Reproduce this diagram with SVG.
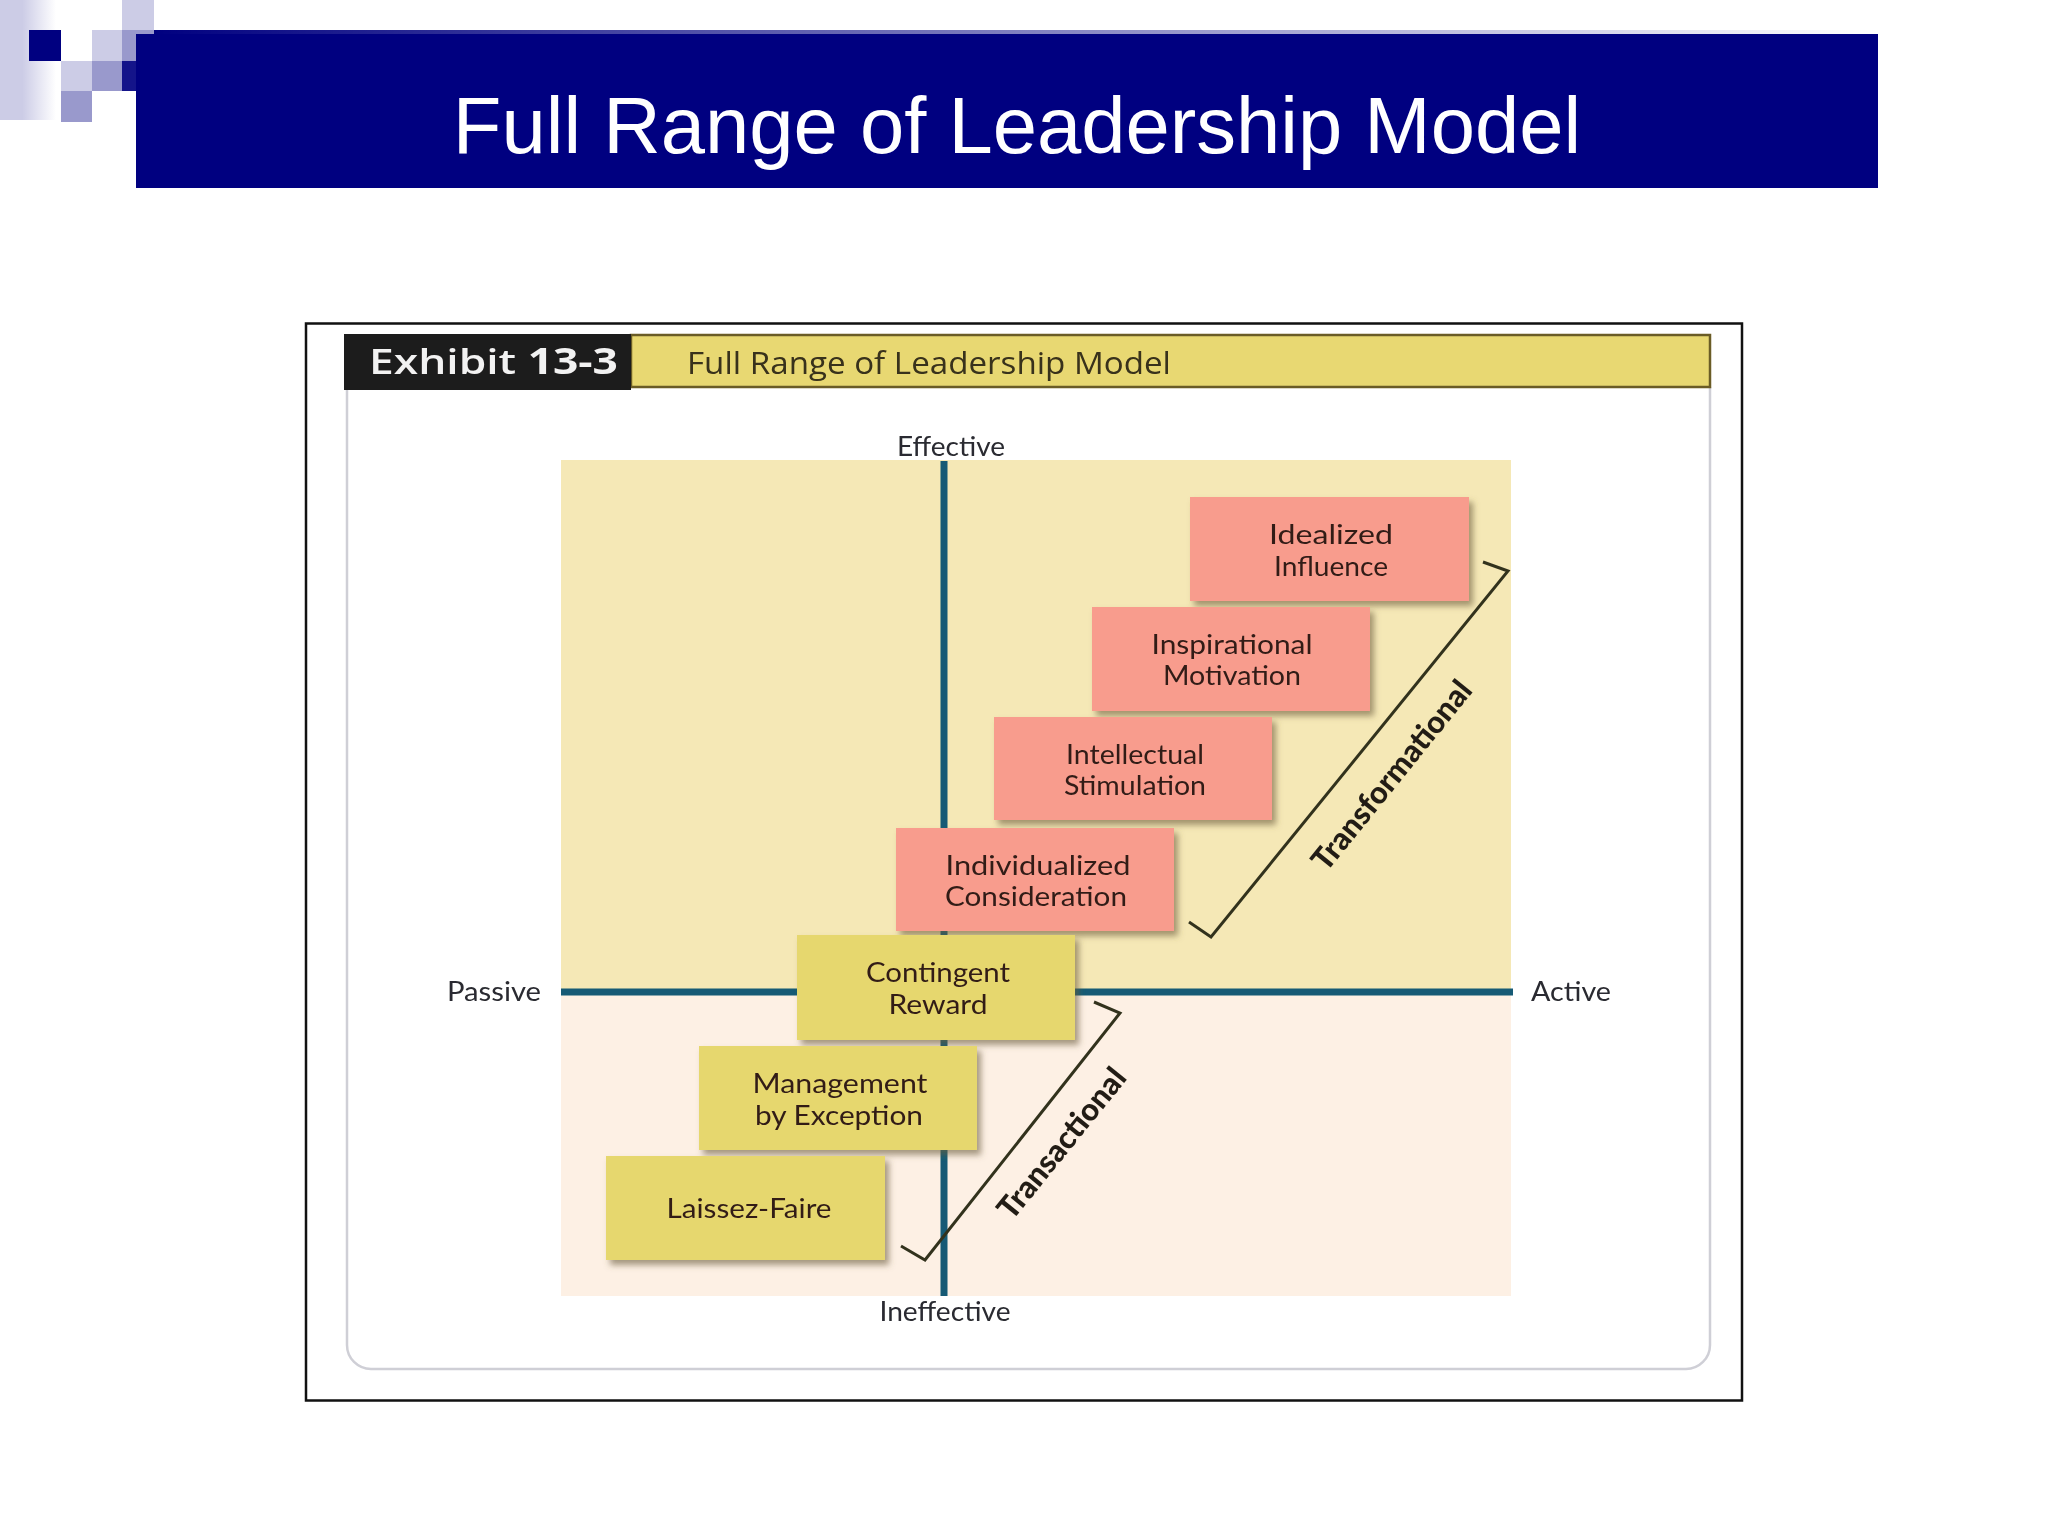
<svg xmlns="http://www.w3.org/2000/svg" width="2048" height="1536" viewBox="0 0 2048 1536">
<style>
.b{filter:url(#sh)}
.pink{fill:#f89c8d}
.yel{fill:#e6d76e}
text{font-family:"Lato","Liberation Sans",sans-serif}
.t{font-size:27px;fill:#301c18;text-anchor:middle}
.a{font-size:26px;fill:#2a2b30;text-anchor:middle}
.br{fill:none;stroke:#33331f;stroke-width:3}
.ax{stroke:#135a75;stroke-width:7;fill:none}
.rot{font-size:31px;font-weight:900;fill:#241f14;text-anchor:middle}
</style>
<defs>
<filter id="sh" x="-5%" y="-5%" width="115%" height="120%"><feDropShadow dx="4" dy="5" stdDeviation="3" flood-color="#6b5a3a" flood-opacity=".6"/></filter>
<filter id="soft"><feGaussianBlur stdDeviation=".7"/></filter>
<linearGradient id="fade"><stop offset="0" stop-color="#ccccE6"/><stop offset=".4" stop-color="#ccccE6"/><stop offset="1" stop-color="#fff"/></linearGradient>
<linearGradient id="top"><stop offset="0" stop-color="#000080"/><stop offset="1" stop-color="#000080" stop-opacity="0"/></linearGradient>
</defs>
<rect width="2048" height="1536" fill="#fff"/>
<g id="decor">
<rect x="0" y="0" width="56" height="120" fill="url(#fade)"/>
<rect x="29" y="30" width="32" height="31" fill="#000080"/>
<rect x="122" y="0" width="32" height="30" fill="#ccccE6"/>
<rect x="92" y="30" width="30" height="31" fill="#ccccE6"/>
<rect x="122" y="30" width="32" height="31" fill="#9999CC"/>
<rect x="61" y="61" width="31" height="30" fill="#ccccE6"/>
<rect x="92" y="61" width="30" height="30" fill="#9999CC"/>
<rect x="122" y="61" width="20" height="30" fill="#14148a"/>
<rect x="61" y="91" width="31" height="31" fill="#9999CC"/>
</g>
<g id="title">
<rect x="154" y="30" width="1724" height="5" fill="url(#top)"/>
<rect x="136" y="34" width="1742" height="154" fill="#000080"/>
<text x="1017" y="153" style="font-family:'Liberation Sans',Arial,sans-serif;font-size:79.6px;fill:#fff;text-anchor:middle">Full Range of Leadership Model</text>
</g>
<rect id="frame" x="306" y="323.5" width="1436" height="1077" fill="#fff" stroke="#111" stroke-width="2.5"/>
<g id="exhibit" filter="url(#soft)">
<path d="M347 390V1345a24 24 0 0 0 24 24H1686a24 24 0 0 0 24-24V387" fill="none" stroke="#cfcfd6" stroke-width="2.5"/>
<rect x="631" y="335" width="1079" height="52" fill="#e8d872" stroke="#6b5c25" stroke-width="2.5"/>
<rect x="344" y="334" width="287" height="56" fill="#1f1c1c"/>
<text x="369" y="374" textLength="249" lengthAdjust="spacingAndGlyphs" style="font-family:'Open Sans','Liberation Sans',sans-serif;font-size:35px;font-weight:600;fill:#f2f2f2">Exhibit <tspan font-weight="700">13-3</tspan></text>
<text x="687" y="374" textLength="484" lengthAdjust="spacingAndGlyphs" style="font-family:'Open Sans','Liberation Sans',sans-serif;font-size:31px;fill:#38301a">Full Range of Leadership Model</text>
<rect x="561" y="460" width="950" height="532" fill="#f5e8b6"/>
<rect x="561" y="992" width="950" height="304" fill="#fdf0e4"/>
<g id="connectors">
<path class="ax" d="M944 461V1296"/>
<path class="ax" d="M561 992H1513"/>
<path class="br" d="M1483 562L1508 571L1211 937L1189 922"/>
<path class="br" d="M1094 1002L1120 1013L925 1260L901 1246"/>
</g>
<text class="a" x="951" y="456" textLength="108" lengthAdjust="spacingAndGlyphs">Effective</text>
<text class="a" x="494" y="1001" textLength="94" lengthAdjust="spacingAndGlyphs">Passive</text>
<text class="a" x="1571" y="1001" textLength="80" lengthAdjust="spacingAndGlyphs">Active</text>
<text class="a" x="945" y="1321" textLength="131" lengthAdjust="spacingAndGlyphs">Ineffective</text>
<g id="idealized"><rect class="b pink" x="1190" y="497" width="279" height="104"/><text class="t" x="1331" y="544" textLength="124" lengthAdjust="spacingAndGlyphs">Idealized</text><text class="t" x="1331" y="576" textLength="114" lengthAdjust="spacingAndGlyphs">Influence</text></g>
<g id="inspirational"><rect class="b pink" x="1092" y="607" width="278" height="104"/><text class="t" x="1232" y="654" textLength="161" lengthAdjust="spacingAndGlyphs">Inspirational</text><text class="t" x="1232" y="685" textLength="138" lengthAdjust="spacingAndGlyphs">Motivation</text></g>
<g id="intellectual"><rect class="b pink" x="994" y="717" width="278" height="103"/><text class="t" x="1135" y="764" textLength="138" lengthAdjust="spacingAndGlyphs">Intellectual</text><text class="t" x="1135" y="795" textLength="142" lengthAdjust="spacingAndGlyphs">Stimulation</text></g>
<g id="individualized"><rect class="b pink" x="896" y="828" width="278" height="103"/><text class="t" x="1038" y="875" textLength="185" lengthAdjust="spacingAndGlyphs">Individualized</text><text class="t" x="1036" y="906" textLength="182" lengthAdjust="spacingAndGlyphs">Consideration</text></g>
<g id="contingent"><rect class="b yel" x="797" y="935" width="278" height="105"/><text class="t" x="938" y="982" textLength="144" lengthAdjust="spacingAndGlyphs">Contingent</text><text class="t" x="938" y="1014" textLength="99" lengthAdjust="spacingAndGlyphs">Reward</text></g>
<g id="management"><rect class="b yel" x="699" y="1046" width="278" height="104"/><text class="t" x="840" y="1093" textLength="175" lengthAdjust="spacingAndGlyphs">Management</text><text class="t" x="839" y="1125" textLength="168" lengthAdjust="spacingAndGlyphs">by Exception</text></g>
<g id="laissez"><rect class="b yel" x="606" y="1156" width="279" height="104"/><text class="t" x="749" y="1218" textLength="165" lengthAdjust="spacingAndGlyphs">Laissez-Faire</text></g>
<text class="rot" transform="translate(1400 782) rotate(-51)" textLength="234" lengthAdjust="spacingAndGlyphs">Transformational</text>
<text class="rot" transform="translate(1070 1150) rotate(-51)" textLength="184" lengthAdjust="spacingAndGlyphs">Transactional</text>
</g>
</svg>
